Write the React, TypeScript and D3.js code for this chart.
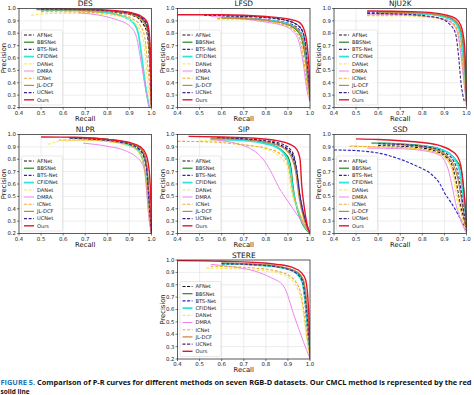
import * as d3 from "d3";

type Pt = [number, number];

const methods = ["AFNet", "BBSNet", "BTS-Net", "CFIDNet", "DANet", "DMRA", "ICNet", "JL-DCF", "UCNet", "Ours"];
const colors = ["#111111", "#137a13", "#2323c8", "#2fe6dc", "#f3ec6a", "#ee86ee", "#f3a72e", "#c8843c", "#40228a", "#e3172b"];
const dashed = [true, false, true, false, true, false, true, false, true, false];
const widths = [1.1, 1.1, 1.1, 1.8, 1.2, 1.0, 1.1, 1.2, 1.1, 1.4];

const xTicks = [0.4, 0.5, 0.6, 0.7, 0.8, 0.9, 1.0];
const yTicks = [0.2, 0.3, 0.4, 0.5, 0.6, 0.7, 0.8, 0.9, 1.0];

// curves in the order of `methods`, points are [recall, precision]
const desCurves: Pt[][] = [
  [[0.5, 0.99], [0.7, 0.985], [0.85, 0.965], [0.92, 0.94], [0.96, 0.88], [0.98, 0.8], [0.99, 0.6], [0.997, 0.35], [1.0, 0.2]],
  [[0.48, 0.995], [0.7, 0.99], [0.85, 0.975], [0.92, 0.95], [0.96, 0.91], [0.98, 0.85], [0.99, 0.7], [0.997, 0.4], [1.0, 0.2]],
  [[0.48, 0.995], [0.7, 0.99], [0.85, 0.975], [0.92, 0.955], [0.96, 0.92], [0.98, 0.87], [0.99, 0.75], [0.997, 0.45], [1.0, 0.2]],
  [[0.5, 0.99], [0.7, 0.98], [0.82, 0.96], [0.88, 0.93], [0.92, 0.88], [0.94, 0.8], [0.96, 0.55], [0.975, 0.35], [0.99, 0.2]],
  [[0.455, 0.945], [0.55, 0.96], [0.7, 0.96], [0.82, 0.945], [0.9, 0.91], [0.94, 0.85], [0.965, 0.72], [0.98, 0.45], [0.995, 0.2]],
  [[0.67, 0.965], [0.78, 0.94], [0.85, 0.905], [0.9, 0.86], [0.93, 0.78], [0.95, 0.6], [0.97, 0.38], [0.99, 0.2]],
  [[0.5, 0.975], [0.7, 0.97], [0.85, 0.95], [0.92, 0.91], [0.95, 0.86], [0.97, 0.76], [0.985, 0.5], [1.0, 0.2]],
  [[0.48, 0.99], [0.7, 0.985], [0.85, 0.97], [0.92, 0.945], [0.96, 0.9], [0.98, 0.83], [0.99, 0.65], [0.997, 0.4], [1.0, 0.2]],
  [[0.5, 0.995], [0.7, 0.99], [0.85, 0.975], [0.92, 0.955], [0.96, 0.92], [0.98, 0.86], [0.99, 0.72], [0.997, 0.45], [1.0, 0.2]],
  [[0.5, 1.0], [0.7, 0.995], [0.85, 0.98], [0.92, 0.96], [0.96, 0.93], [0.98, 0.89], [0.99, 0.8], [0.997, 0.5], [1.0, 0.2]],
];

const lfsdCurves: Pt[][] = [
  [[0.62, 0.94], [0.75, 0.935], [0.85, 0.92], [0.9, 0.9], [0.94, 0.87], [0.965, 0.82], [0.98, 0.7], [0.99, 0.5], [1.0, 0.3]],
  [[0.6, 0.925], [0.7, 0.92], [0.8, 0.905], [0.88, 0.88], [0.93, 0.84], [0.96, 0.77], [0.975, 0.65], [0.99, 0.45], [1.0, 0.3]],
  [[0.6, 0.93], [0.7, 0.925], [0.8, 0.91], [0.88, 0.89], [0.93, 0.86], [0.96, 0.8], [0.98, 0.65], [0.99, 0.45], [1.0, 0.3]],
  [[0.6, 0.925], [0.7, 0.92], [0.8, 0.905], [0.88, 0.885], [0.93, 0.85], [0.96, 0.79], [0.98, 0.65], [0.99, 0.4], [1.0, 0.3]],
  [[0.58, 0.91], [0.7, 0.91], [0.8, 0.895], [0.88, 0.87], [0.93, 0.82], [0.955, 0.75], [0.97, 0.6], [0.985, 0.4], [1.0, 0.25]],
  [[0.55, 0.935], [0.7, 0.915], [0.8, 0.89], [0.88, 0.86], [0.92, 0.82], [0.95, 0.73], [0.97, 0.55], [0.985, 0.35], [1.0, 0.25]],
  [[0.58, 0.92], [0.7, 0.915], [0.8, 0.9], [0.88, 0.87], [0.93, 0.82], [0.96, 0.72], [0.975, 0.55], [0.99, 0.35], [1.0, 0.28]],
  [[0.6, 0.925], [0.7, 0.92], [0.8, 0.905], [0.88, 0.88], [0.93, 0.85], [0.96, 0.78], [0.98, 0.62], [0.99, 0.42], [1.0, 0.3]],
  [[0.52, 0.945], [0.65, 0.94], [0.8, 0.925], [0.9, 0.9], [0.94, 0.87], [0.965, 0.82], [0.98, 0.7], [0.99, 0.5], [1.0, 0.32]],
  [[0.4, 0.95], [0.6, 0.95], [0.8, 0.935], [0.9, 0.915], [0.95, 0.89], [0.975, 0.82], [0.99, 0.65], [0.997, 0.45], [1.0, 0.25]],
];

const nju2kCurves: Pt[][] = [
  [[0.6, 0.965], [0.75, 0.96], [0.85, 0.95], [0.9, 0.935], [0.94, 0.9], [0.965, 0.84], [0.98, 0.7], [0.99, 0.45], [1.0, 0.25]],
  [[0.6, 0.97], [0.75, 0.965], [0.85, 0.955], [0.9, 0.94], [0.94, 0.91], [0.97, 0.84], [0.985, 0.7], [0.995, 0.45], [1.0, 0.25]],
  [[0.55, 0.97], [0.75, 0.963], [0.85, 0.952], [0.9, 0.937], [0.94, 0.905], [0.97, 0.83], [0.985, 0.68], [0.995, 0.42], [1.0, 0.25]],
  [[0.6, 0.965], [0.75, 0.96], [0.85, 0.95], [0.9, 0.93], [0.94, 0.9], [0.965, 0.84], [0.98, 0.7], [0.99, 0.45], [1.0, 0.25]],
  [[0.55, 0.94], [0.7, 0.94], [0.82, 0.93], [0.9, 0.91], [0.94, 0.87], [0.96, 0.8], [0.975, 0.65], [0.99, 0.4], [1.0, 0.25]],
  [[0.55, 0.955], [0.7, 0.95], [0.82, 0.935], [0.9, 0.91], [0.94, 0.87], [0.96, 0.8], [0.975, 0.62], [0.99, 0.38], [1.0, 0.25]],
  [[0.55, 0.945], [0.7, 0.945], [0.82, 0.935], [0.9, 0.915], [0.94, 0.88], [0.96, 0.82], [0.975, 0.68], [0.99, 0.42], [1.0, 0.25]],
  [[0.6, 0.97], [0.75, 0.965], [0.85, 0.955], [0.9, 0.94], [0.94, 0.915], [0.97, 0.85], [0.985, 0.72], [0.995, 0.45], [1.0, 0.25]],
  [[0.55, 0.96], [0.7, 0.955], [0.82, 0.94], [0.88, 0.92], [0.92, 0.88], [0.95, 0.8], [0.965, 0.6], [0.975, 0.4], [0.99, 0.25]],
  [[0.55, 0.98], [0.75, 0.975], [0.85, 0.965], [0.9, 0.95], [0.95, 0.92], [0.975, 0.86], [0.99, 0.72], [0.997, 0.45], [1.0, 0.22]],
];

const nlprCurves: Pt[][] = [
  [[0.63, 0.975], [0.75, 0.965], [0.85, 0.945], [0.9, 0.925], [0.94, 0.89], [0.965, 0.83], [0.98, 0.7], [0.99, 0.45], [1.0, 0.2]],
  [[0.63, 0.975], [0.75, 0.97], [0.85, 0.95], [0.9, 0.93], [0.94, 0.9], [0.965, 0.85], [0.98, 0.72], [0.99, 0.45], [1.0, 0.2]],
  [[0.63, 0.975], [0.75, 0.968], [0.85, 0.95], [0.9, 0.93], [0.94, 0.9], [0.965, 0.84], [0.98, 0.7], [0.99, 0.45], [1.0, 0.2]],
  [[0.63, 0.97], [0.75, 0.96], [0.85, 0.94], [0.9, 0.915], [0.94, 0.87], [0.96, 0.8], [0.975, 0.65], [0.99, 0.35], [1.0, 0.2]],
  [[0.53, 0.92], [0.6, 0.95], [0.75, 0.95], [0.85, 0.93], [0.9, 0.9], [0.94, 0.86], [0.96, 0.78], [0.975, 0.6], [0.99, 0.3], [1.0, 0.2]],
  [[0.69, 0.93], [0.8, 0.905], [0.88, 0.87], [0.93, 0.82], [0.955, 0.77], [0.97, 0.7], [0.98, 0.5], [0.99, 0.3], [1.0, 0.2]],
  [[0.58, 0.955], [0.7, 0.955], [0.82, 0.94], [0.9, 0.91], [0.94, 0.87], [0.96, 0.8], [0.975, 0.65], [0.99, 0.35], [1.0, 0.2]],
  [[0.63, 0.975], [0.75, 0.968], [0.85, 0.95], [0.9, 0.93], [0.94, 0.9], [0.965, 0.85], [0.98, 0.72], [0.99, 0.45], [1.0, 0.2]],
  [[0.63, 0.97], [0.75, 0.96], [0.85, 0.94], [0.9, 0.92], [0.94, 0.885], [0.965, 0.82], [0.98, 0.68], [0.99, 0.42], [1.0, 0.2]],
  [[0.5, 0.98], [0.65, 0.978], [0.8, 0.96], [0.9, 0.935], [0.95, 0.9], [0.975, 0.84], [0.99, 0.7], [0.997, 0.45], [1.0, 0.2]],
];

const sipCurves: Pt[][] = [
  [[0.58, 0.975], [0.7, 0.965], [0.8, 0.945], [0.86, 0.92], [0.9, 0.88], [0.925, 0.82], [0.94, 0.7], [0.955, 0.5], [0.98, 0.3], [1.0, 0.2]],
  [[0.55, 0.965], [0.7, 0.955], [0.8, 0.93], [0.85, 0.9], [0.88, 0.86], [0.905, 0.8], [0.915, 0.72], [0.922, 0.6], [0.935, 0.45], [0.96, 0.3], [1.0, 0.2]],
  [[0.58, 0.97], [0.7, 0.96], [0.8, 0.94], [0.86, 0.91], [0.9, 0.87], [0.925, 0.8], [0.94, 0.68], [0.955, 0.5], [0.98, 0.3], [1.0, 0.2]],
  [[0.55, 0.96], [0.7, 0.95], [0.8, 0.925], [0.85, 0.895], [0.88, 0.85], [0.9, 0.79], [0.912, 0.7], [0.92, 0.58], [0.935, 0.45], [0.96, 0.31], [1.0, 0.2]],
  [[0.5, 0.95], [0.6, 0.945], [0.7, 0.92], [0.8, 0.88], [0.85, 0.84], [0.88, 0.79], [0.9, 0.72], [0.915, 0.55], [0.95, 0.38], [1.0, 0.2]],
  [[0.55, 0.96], [0.65, 0.935], [0.72, 0.895], [0.76, 0.85], [0.79, 0.795], [0.82, 0.71], [0.86, 0.57], [0.9, 0.46], [0.95, 0.33], [1.0, 0.2]],
  [[0.4, 0.945], [0.55, 0.94], [0.7, 0.915], [0.8, 0.89], [0.86, 0.85], [0.89, 0.8], [0.905, 0.72], [0.92, 0.55], [0.955, 0.35], [1.0, 0.2]],
  [[0.55, 0.97], [0.7, 0.96], [0.8, 0.94], [0.86, 0.91], [0.9, 0.86], [0.92, 0.8], [0.935, 0.7], [0.95, 0.5], [0.975, 0.3], [1.0, 0.2]],
  [[0.58, 0.975], [0.7, 0.965], [0.8, 0.95], [0.87, 0.925], [0.905, 0.89], [0.925, 0.84], [0.94, 0.72], [0.955, 0.5], [0.98, 0.3], [1.0, 0.2]],
  [[0.45, 0.985], [0.6, 0.98], [0.75, 0.97], [0.85, 0.95], [0.91, 0.92], [0.94, 0.88], [0.955, 0.8], [0.962, 0.6], [0.975, 0.4], [0.99, 0.25], [1.0, 0.2]],
];

const ssdCurves: Pt[][] = [
  [[0.6, 0.91], [0.7, 0.905], [0.8, 0.89], [0.86, 0.865], [0.9, 0.83], [0.93, 0.77], [0.95, 0.65], [0.97, 0.45], [0.99, 0.3], [1.0, 0.22]],
  [[0.6, 0.93], [0.7, 0.925], [0.8, 0.91], [0.87, 0.89], [0.92, 0.85], [0.95, 0.8], [0.975, 0.72], [0.985, 0.6], [0.995, 0.4], [1.0, 0.25]],
  [[0.4, 0.875], [0.5, 0.87], [0.6, 0.85], [0.7, 0.8], [0.78, 0.74], [0.84, 0.68], [0.88, 0.6], [0.9, 0.53], [0.93, 0.45], [0.96, 0.36], [1.0, 0.22]],
  [[0.57, 0.93], [0.7, 0.92], [0.8, 0.905], [0.87, 0.885], [0.92, 0.85], [0.95, 0.79], [0.97, 0.7], [0.985, 0.5], [1.0, 0.3]],
  [[0.48, 0.91], [0.6, 0.9], [0.7, 0.895], [0.8, 0.88], [0.87, 0.85], [0.91, 0.8], [0.935, 0.7], [0.95, 0.55], [0.97, 0.35], [1.0, 0.2]],
  [[0.55, 0.89], [0.7, 0.885], [0.8, 0.87], [0.87, 0.84], [0.9, 0.79], [0.92, 0.7], [0.935, 0.58], [0.95, 0.45], [0.97, 0.33], [1.0, 0.2]],
  [[0.47, 0.905], [0.6, 0.9], [0.7, 0.895], [0.8, 0.88], [0.87, 0.85], [0.91, 0.8], [0.935, 0.73], [0.95, 0.62], [0.97, 0.42], [1.0, 0.22]],
  [[0.57, 0.93], [0.7, 0.92], [0.8, 0.9], [0.87, 0.87], [0.91, 0.83], [0.94, 0.76], [0.96, 0.65], [0.975, 0.5], [0.99, 0.32], [1.0, 0.25]],
  [[0.6, 0.925], [0.7, 0.92], [0.8, 0.905], [0.87, 0.88], [0.91, 0.845], [0.94, 0.79], [0.96, 0.7], [0.975, 0.55], [0.99, 0.35], [1.0, 0.25]],
  [[0.5, 0.965], [0.6, 0.96], [0.7, 0.95], [0.8, 0.935], [0.88, 0.91], [0.93, 0.87], [0.96, 0.82], [0.975, 0.74], [0.985, 0.6], [0.995, 0.4], [1.0, 0.25]],
];

const stereCurves: Pt[][] = [
  [[0.6, 0.97], [0.75, 0.96], [0.85, 0.945], [0.9, 0.925], [0.94, 0.89], [0.965, 0.82], [0.975, 0.7], [0.985, 0.5], [0.995, 0.3], [1.0, 0.22]],
  [[0.6, 0.975], [0.75, 0.965], [0.85, 0.95], [0.9, 0.93], [0.945, 0.895], [0.97, 0.83], [0.98, 0.7], [0.99, 0.5], [1.0, 0.25]],
  [[0.6, 0.97], [0.75, 0.96], [0.85, 0.945], [0.9, 0.925], [0.945, 0.89], [0.97, 0.82], [0.98, 0.68], [0.99, 0.48], [1.0, 0.25]],
  [[0.6, 0.97], [0.75, 0.96], [0.85, 0.945], [0.9, 0.925], [0.94, 0.89], [0.965, 0.82], [0.978, 0.68], [0.99, 0.45], [1.0, 0.25]],
  [[0.53, 0.935], [0.65, 0.93], [0.75, 0.92], [0.85, 0.895], [0.91, 0.85], [0.94, 0.78], [0.96, 0.68], [0.975, 0.5], [0.99, 0.3], [1.0, 0.22]],
  [[0.55, 0.965], [0.65, 0.945], [0.75, 0.91], [0.82, 0.86], [0.88, 0.79], [0.93, 0.54], [0.97, 0.34], [0.985, 0.27], [1.0, 0.2]],
  [[0.55, 0.95], [0.65, 0.945], [0.75, 0.935], [0.85, 0.91], [0.91, 0.87], [0.94, 0.81], [0.96, 0.72], [0.975, 0.55], [0.99, 0.33], [1.0, 0.22]],
  [[0.6, 0.975], [0.75, 0.965], [0.85, 0.95], [0.9, 0.932], [0.945, 0.9], [0.97, 0.84], [0.982, 0.72], [0.992, 0.5], [1.0, 0.25]],
  [[0.6, 0.97], [0.75, 0.962], [0.85, 0.945], [0.9, 0.925], [0.94, 0.89], [0.965, 0.83], [0.978, 0.7], [0.99, 0.48], [1.0, 0.25]],
  [[0.4, 0.995], [0.6, 0.99], [0.75, 0.98], [0.85, 0.965], [0.92, 0.94], [0.96, 0.9], [0.98, 0.84], [0.99, 0.7], [0.997, 0.45], [1.0, 0.2]],
];

const panels = [
  { title: "DES", curves: desCurves, left: 19, top: 8.5 },
  { title: "LFSD", curves: lfsdCurves, left: 177.5, top: 8.5 },
  { title: "NJU2K", curves: nju2kCurves, left: 334, top: 8.5 },
  { title: "NLPR", curves: nlprCurves, left: 19, top: 134.5 },
  { title: "SIP", curves: sipCurves, left: 177.5, top: 134.5 },
  { title: "SSD", curves: ssdCurves, left: 334, top: 134.5 },
  { title: "STERE", curves: stereCurves, left: 177.5, top: 260 },
];

const W = 132.5;
const H = 99;
const font = "DejaVu Sans, sans-serif";
const captionFont = "Open Sans, sans-serif";

const Panel = ({ idx, title, curves, left, top }: { idx: number; title: string; curves: Pt[][]; left: number; top: number }) => {
  const x = d3.scaleLinear().domain([0.4, 1.0]).range([0, W]);
  const y = d3.scaleLinear().domain([0.2, 1.0]).range([H, 0]);
  const line = d3.line<Pt>().x(d => x(d[0])).y(d => y(d[1])).curve(d3.curveMonotoneX);
  const clipId = `clip-${idx}`;
  const rowH = 7.2;

  return (
    <g transform={`translate(${left},${top})`}>
      <defs>
        <clipPath id={clipId}>
          <rect x={0} y={0} width={W} height={H} />
        </clipPath>
      </defs>
      {xTicks.map(t => (
        <line key={"gx" + t} x1={x(t)} x2={x(t)} y1={0} y2={H} stroke="#dadada" strokeWidth={0.5} />
      ))}
      {yTicks.map(t => (
        <line key={"gy" + t} x1={0} x2={W} y1={y(t)} y2={y(t)} stroke="#dadada" strokeWidth={0.5} />
      ))}
      <g clipPath={`url(#${clipId})`}>
        {curves.map((c, i) => (
          <path
            key={methods[i]}
            d={line(c) ?? ""}
            fill="none"
            stroke={colors[i]}
            strokeWidth={widths[i]}
            strokeDasharray={dashed[i] ? "3,1.6" : undefined}
          />
        ))}
      </g>
      <rect x={0} y={0} width={W} height={H} fill="none" stroke="#222" strokeWidth={0.7} />
      {xTicks.map(t => (
        <g key={"tx" + t}>
          <line x1={x(t)} x2={x(t)} y1={H} y2={H + 2} stroke="#222" strokeWidth={0.6} />
          <text x={x(t)} y={H + 7.3} fontSize={5.4} textAnchor="middle" fontFamily={font} fill="#222">
            {d3.format(".1f")(t)}
          </text>
        </g>
      ))}
      {yTicks.map(t => (
        <g key={"ty" + t}>
          <line x1={-2} x2={0} y1={y(t)} y2={y(t)} stroke="#222" strokeWidth={0.6} />
          <text x={-3} y={y(t) + 1.9} fontSize={5.4} textAnchor="end" fontFamily={font} fill="#222">
            {d3.format(".1f")(t)}
          </text>
        </g>
      ))}
      <text x={W / 2} y={-2.4} fontSize={7.4} textAnchor="middle" fontFamily={font} fill="#111">
        {title}
      </text>
      <text x={W / 2} y={H + 13} fontSize={6.8} textAnchor="middle" fontFamily={font} fill="#111">
        Recall
      </text>
      <text
        transform={`translate(${-13},${H / 2}) rotate(-90)`}
        fontSize={6.8}
        textAnchor="middle"
        fontFamily={font}
        fill="#111"
      >
        Precision
      </text>
      <g transform="translate(2.5,21.5)">
        <rect x={0} y={0} width={41} height={75} rx={1.5} fill="white" fillOpacity={0.8} stroke="#d0d0d0" strokeWidth={0.5} />
        {methods.map((m, i) => (
          <g key={m} transform={`translate(0,${5 + i * rowH})`}>
            <line
              x1={2.5}
              x2={12.5}
              y1={0}
              y2={0}
              stroke={colors[i]}
              strokeWidth={widths[i]}
              strokeDasharray={dashed[i] ? "3,1.6" : undefined}
            />
            <text x={15.5} y={1.8} fontSize={5.1} fontFamily={font} fill="#222">
              {m}
            </text>
          </g>
        ))}
      </g>
    </g>
  );
};

export default function App() {
  return (
    <svg
      width={474}
      height={395}
      viewBox="0 0 474 395"
      style={{ position: "absolute", left: 0, top: 0, background: "white" }}
    >
      <rect width={474} height={395} fill="white" />
      {panels.map((p, i) => (
        <Panel key={p.title} idx={i} {...p} />
      ))}
      <text
        x={0.5}
        y={385}
        fontSize={6.5}
        fontWeight="bold"
        fontFamily={captionFont}
        textLength={471}
        lengthAdjust="spacingAndGlyphs"
      >
        <tspan fill="#1f73b7">FIGURE 5.</tspan>
        <tspan fill="#111">{"  Comparison of P-R curves for different methods on seven RGB-D datasets. Our CMCL method is represented by the red"}</tspan>
      </text>
      <text x={0.5} y={394} fontSize={6.5} fontWeight="bold" fontFamily={captionFont} fill="#111">
        solid line
      </text>
    </svg>
  );
}
